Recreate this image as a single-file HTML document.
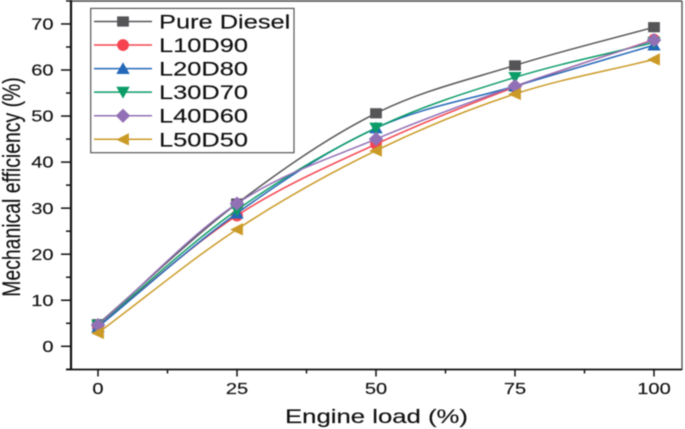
<!DOCTYPE html>
<html>
<head>
<meta charset="utf-8">
<title>Mechanical efficiency vs engine load</title>
<style>
html,body{margin:0;padding:0;background:#fff;width:685px;height:429px;overflow:hidden}
svg{display:block;filter:blur(0.5px)}
text{font-family:"Liberation Sans",sans-serif;fill:#111;stroke:#111;stroke-width:0.15px}
</style>
</head>
<body>
<svg id="chart" xmlns="http://www.w3.org/2000/svg" width="685" height="429" viewBox="0 0 685 429"></svg>
<script>
const categories = [0, 25, 50, 75, 100];
const xTickLabels = ["0", "25", "50", "75", "100"];
const yTickLabels = ["0", "10", "20", "30", "40", "50", "60", "70"];
const seriesNames = ["Pure Diesel", "L10D90", "L20D80", "L30D70", "L40D60", "L50D50"];
const pureDiesel = [4.8, 31.0, 50.6, 61.0, 69.3];
const l10d90 = [4.5, 28.4, 43.9, 56.3, 66.6];
const l20d80 = [4.2, 28.9, 47.4, 56.5, 65.4];
const l30d70 = [4.6, 29.6, 47.4, 58.4, 66.0];
const l40d60 = [4.6, 31.0, 45.0, 56.5, 66.5];
const l50d50 = [2.9, 25.4, 42.5, 54.8, 62.3];
const seriesValues = [pureDiesel, l10d90, l20d80, l30d70, l40d60, l50d50];
const seriesColors = ["#555558", "#f5444f", "#2468b8", "#0c9c68", "#9270b5", "#cb9a26"];
const seriesMarkers = ["square", "circle", "up", "down", "diamond", "left"];

const svg = document.getElementById('chart');
const NS = 'http://www.w3.org/2000/svg';
function xScale(v){ return 98 + v * 5.56; }
function yScale(v){ return 346.3 - v * 4.605; }
function make(tag, attrs, parent){
  const el = document.createElementNS(NS, tag);
  for (const k in attrs) el.setAttribute(k, attrs[k]);
  (parent || svg).appendChild(el);
  return el;
}
function slug(s){ return s.toLowerCase().replace(/\s+/g, '-'); }

/* smooth curve through the data; end tangents follow the end segments */
function splinePath(xs, ys){
  const n = xs.length, t = [];
  for (let i = 0; i < n; i++){
    const a = Math.max(i - 1, 0), b = Math.min(i + 1, n - 1);
    t[i] = (ys[b] - ys[a]) / (xs[b] - xs[a]);
  }
  let p = 'M' + xs[0].toFixed(2) + ' ' + ys[0].toFixed(2);
  for (let i = 0; i < n - 1; i++){
    const h = xs[i+1] - xs[i];
    p += ' C' + (xs[i]+h/3).toFixed(2) + ' ' + (ys[i]+t[i]*h/3).toFixed(2) + ' ' +
         (xs[i+1]-h/3).toFixed(2) + ' ' + (ys[i+1]-t[i+1]*h/3).toFixed(2) + ' ' +
         xs[i+1].toFixed(2) + ' ' + ys[i+1].toFixed(2);
  }
  return p;
}

function drawMarker(kind, cx, cy, color, parent){
  const r = 5.9;
  if (kind === 'circle') return make('circle', {cx: cx, cy: cy, r: r, fill: color}, parent);
  let pts;
  if (kind === 'square') pts = [[-r,-r+0.8],[r,-r+0.8],[r,r-0.8],[-r,r-0.8]];
  if (kind === 'up') pts = [[0,-r-0.5],[r+0.8,r-0.5],[-r-0.8,r-0.5]];
  if (kind === 'down') pts = [[0,r+0.5],[r+0.8,-r+0.5],[-r-0.8,-r+0.5]];
  if (kind === 'diamond') pts = [[0,-r-1.2],[r+1.4,0],[0,r+1.2],[-r-1.4,0]];
  if (kind === 'left') pts = [[-r-1,0.3],[r,-r-0.3],[r,r+0.3]];
  return make('polygon', {points: pts.map(q => (cx+q[0]) + ',' + (cy+q[1])).join(' '), fill: color}, parent);
}

/* frame */
const frameTop = make('line', {x1: 71, y1: 1, x2: 682, y2: 1, stroke: '#444', 'stroke-width': 1.6});


const frameRight = make('line', {x1: 682, y1: 1, x2: 682, y2: 370, stroke: '#555', 'stroke-width': 1.4});


const yAxis = make('line', {x1: 71, y1: 0, x2: 71, y2: 370, stroke: '#111', 'stroke-width': 2.2});


const xAxis = make('line', {x1: 66, y1: 369.5, x2: 682, y2: 369.5, stroke: '#111', 'stroke-width': 1.8});



/* y ticks and labels */
yTickLabels.forEach(function(label){
  const v = Number(label);
  const y = yScale(v);
  const tick = make('line', {x1: 61, y1: y, x2: 71, y2: y, stroke: '#111', 'stroke-width': 1.5});
  
  
  const minor = make('line', {x1: 66, y1: yScale(v + 5), x2: 71, y2: yScale(v + 5), stroke: '#111', 'stroke-width': 1.5});
  
  
  const t = make('text', {transform: 'translate(53.5,' + (y + 5.6) + ') scale(1.27,1)', 'text-anchor': 'end', 'font-size': 15.8});
  t.textContent = label;
  
  
});
const minorBottom = make('line', {x1: 66, y1: yScale(-5), x2: 71, y2: yScale(-5), stroke: '#111', 'stroke-width': 1.5});



/* x ticks and labels */
xTickLabels.forEach(function(label, i){
  const v = categories[i];
  const x = xScale(v);
  const tick = make('line', {x1: x, y1: 369.5, x2: x, y2: 376.5, stroke: '#111', 'stroke-width': 1.5});
  
  
  if (i < xTickLabels.length - 1){
    const mx = xScale(v + 12.5);
    const minor = make('line', {x1: mx, y1: 369.5, x2: mx, y2: 373.5, stroke: '#111', 'stroke-width': 1.5});
    
    
  }
  const t = make('text', {transform: 'translate(' + x + ',394) scale(1.27,1)', 'text-anchor': 'middle', 'font-size': 15.8});
  t.textContent = label;
  
  
});

/* axis titles */
const xTitle = make('text', {transform: 'translate(376.5,423) scale(1.34,1)', 'text-anchor': 'middle', 'font-size': 19.2});
xTitle.textContent = 'Engine load (%)';


const yTitle = make('text', {transform: 'translate(20,187) scale(1.3,1) rotate(-90)', 'text-anchor': 'middle', 'font-size': 19.4});
yTitle.textContent = 'Mechanical efficiency (%)';



/* series */
seriesNames.forEach(function(name, s){
  const g = make('g', {});
  
  
  const xs = categories.map(xScale);
  const ys = seriesValues[s].map(yScale);
  const line = make('path', {d: splinePath(xs, ys), fill: 'none', stroke: seriesColors[s], 'stroke-width': 1.5}, g);
  
  
  seriesValues[s].forEach(function(val, i){
    const m = drawMarker(seriesMarkers[s], xScale(categories[i]), yScale(val), seriesColors[s], g);
    
    
  });
});

/* legend */
const legend = make('g', {});


const legendBox = make('rect', {x: 90.7, y: 8.4, width: 203.3, height: 144.3, fill: '#fff', stroke: '#555', 'stroke-width': 1.2}, legend);


seriesNames.forEach(function(name, s){
  const y = 21.5 + s * 23.56;
  const row = make('g', {}, legend);
  
  
  make('line', {x1: 94, y1: y, x2: 152, y2: y, stroke: seriesColors[s], 'stroke-width': 1.5}, row);
  drawMarker(seriesMarkers[s], 123, y, seriesColors[s], row);
  const t = make('text', {transform: 'translate(159,' + (y + 7) + ') scale(1.31,1)', 'font-size': 19.4}, row);
  t.textContent = name;
  
  
});
</script>
</body>
</html>
